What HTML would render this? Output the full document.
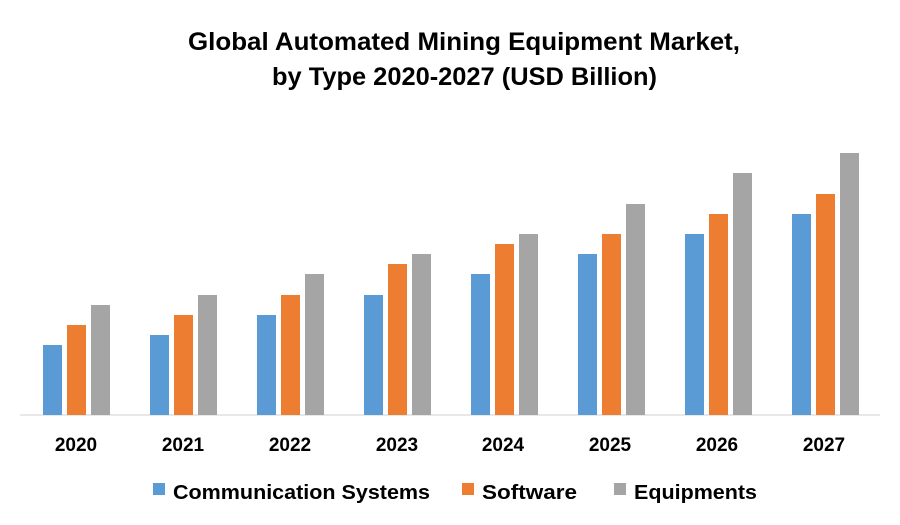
<!DOCTYPE html>
<html><head><style>
body{margin:0;background:#fff;}
svg{display:block;}
text{font-family:"Liberation Sans",sans-serif;font-weight:bold;fill:#000;}
</style></head><body>
<svg width="900" height="525" xmlns="http://www.w3.org/2000/svg">
<text x="188" y="50" font-size="25" textLength="552" lengthAdjust="spacingAndGlyphs">Global Automated Mining Equipment Market,</text>
<text x="272" y="85" font-size="25" textLength="385" lengthAdjust="spacingAndGlyphs">by Type 2020-2027 (USD Billion)</text>
<line x1="20" y1="415" x2="880" y2="415" stroke="#d0d0d0" stroke-width="1"/>
<g id="bars"></g>
<g font-size="19" text-anchor="middle">
<text x="76" y="451">2020</text><text x="183" y="451">2021</text><text x="290" y="451">2022</text><text x="397" y="451">2023</text><text x="503" y="451">2024</text><text x="610" y="451">2025</text><text x="717" y="451">2026</text><text x="824" y="451">2027</text>
</g>
<rect x="153" y="483" width="12" height="12" fill="#5b9bd5"/>
<text x="173" y="499" font-size="20" textLength="257" lengthAdjust="spacingAndGlyphs">Communication Systems</text>
<rect x="462" y="483" width="12" height="12" fill="#ed7d31"/>
<text x="482" y="499" font-size="20" textLength="95" lengthAdjust="spacingAndGlyphs">Software</text>
<rect x="614" y="483" width="12" height="12" fill="#a5a5a5"/>
<text x="634" y="499" font-size="20" textLength="123" lengthAdjust="spacingAndGlyphs">Equipments</text>
</svg>
<script>
var tops=[[345,325,305],[335,315,295],[315,295,274],[295,264,254],[274,244,234],[254,234,204],[234,214,173],[214,194,153]];
var cols=["#5b9bd5","#ed7d31","#a5a5a5"],offs=[0,24,48],s="";
for(var i=0;i<8;i++){var x=43+i*107;for(var j=0;j<3;j++){s+='<rect x="'+(x+offs[j])+'" y="'+tops[i][j]+'" width="19" height="'+(415-tops[i][j])+'" fill="'+cols[j]+'"/>';}}
document.getElementById("bars").innerHTML=s;
</script>
</body></html>
